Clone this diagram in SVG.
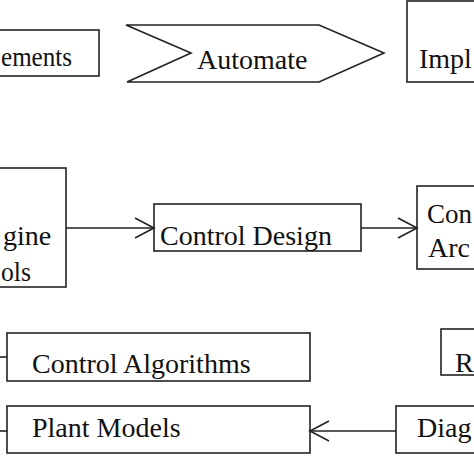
<svg xmlns="http://www.w3.org/2000/svg" width="474" height="474" viewBox="0 0 474 474">
<style>
.box{fill:#fff;stroke:#222;stroke-width:1.6}
.lbl{font-family:"Liberation Serif","Times New Roman",serif;font-size:28px;fill:#111}
.con{fill:none;stroke:#222;stroke-width:1.6}
</style>
<defs>
<marker id="ah" markerUnits="userSpaceOnUse" markerWidth="24" markerHeight="26" refX="20" refY="11" orient="auto" overflow="visible">
<path d="M1,1 L20,11 L1,21" fill="none" stroke="#222" stroke-width="1.6"/>
</marker>
</defs>
<rect width="474" height="474" fill="#fff"/>
<g id="requirements">
<rect class="box" x="-10" y="30" width="109" height="46"/>
<text class="lbl" x="1" y="66" textLength="71" lengthAdjust="spacingAndGlyphs">ements</text>
</g>
<g id="automate">
<polygon class="box" points="126,25 319,25 384,53 319,82 127,82 191,53"/>
<text class="lbl" x="197" y="69">Automate</text>
</g>
<g id="implement">
<rect class="box" x="407" y="1" width="80" height="81"/>
<text class="lbl" x="419" y="68">Impl</text>
</g>
<g id="engine-models">
<rect class="box" x="-10" y="168" width="76" height="119"/>
<text class="lbl" x="3" y="245">gine</text>
<text class="lbl" x="1" y="281" textLength="30" lengthAdjust="spacingAndGlyphs">ols</text>
</g>
<g id="control-design">
<rect class="box" x="154" y="204" width="207" height="47"/>
<text class="lbl" x="160" y="245">Control Design</text>
</g>
<g id="control-architecture">
<rect class="box" x="417" y="186" width="70" height="83"/>
<text class="lbl" x="427" y="223" style="font-size:27px">Con</text>
<text class="lbl" x="428" y="257">Arc</text>
</g>
<g id="control-algorithms">
<rect class="box" x="7" y="333" width="303" height="48"/>
<text class="lbl" x="32" y="373">Control Algorithms</text>
</g>
<g id="r-node">
<rect class="box" x="441" y="329" width="46" height="46"/>
<text class="lbl" x="455" y="372">R</text>
</g>
<g id="plant-models">
<rect class="box" x="7" y="406" width="303" height="47"/>
<text class="lbl" x="32" y="437">Plant Models</text>
</g>
<g id="diagnostics">
<rect class="box" x="396" y="406" width="90" height="47"/>
<text class="lbl" x="417" y="437">Diag</text>
</g>
<g id="connectors">
<line class="con" x1="66" y1="228" x2="154" y2="228" marker-end="url(#ah)"/>
<line class="con" x1="361" y1="228" x2="417" y2="228" marker-end="url(#ah)"/>
<line class="con" x1="396" y1="431" x2="310" y2="431" marker-end="url(#ah)"/>
<line class="con" x1="0" y1="357" x2="7" y2="357"/>
<line class="con" x1="0" y1="431" x2="7" y2="431"/>
</g>
</svg>
